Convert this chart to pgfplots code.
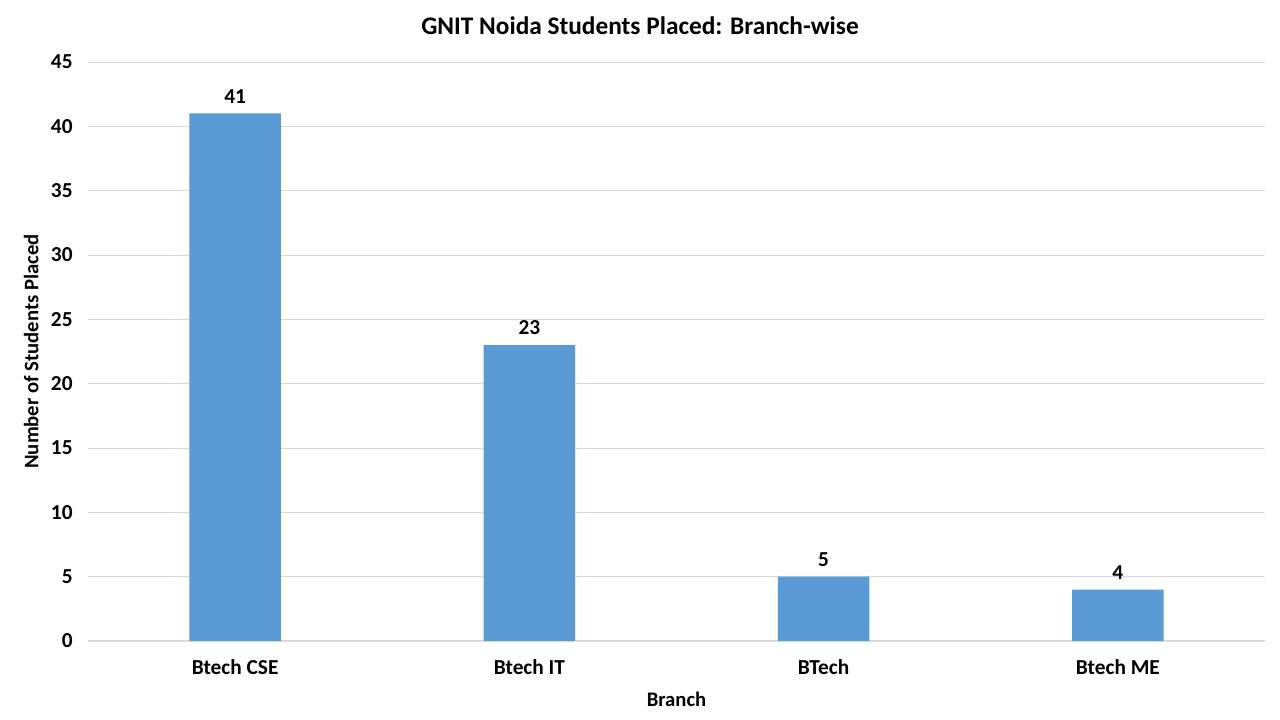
\documentclass[border=0pt]{standalone}
\usepackage{pgfplots}
\pgfplotsset{compat=1.18}
\usepackage{fontspec}
\setmainfont{Carlito}
\definecolor{barblue}{HTML}{5B9BD5}
\definecolor{gridgray}{HTML}{D9D9D9}
\begin{document}
\begin{tikzpicture}[x=0.75pt,y=0.75pt]
\path[use as bounding box,fill=white] (0,0) rectangle (1280,720);
\node[font=\bfseries\fontsize{19}{22}\selectfont] at (640,694) {GNIT Noida Students Placed: Branch-wise};
\begin{axis}[
  at={(88*0.75pt,79*0.75pt)}, anchor=south west,
  scale only axis, width=882.75pt, height=434.25pt,
  xmin=-0.5, xmax=3.5, ymin=0, ymax=45,
  ytick={0,5,...,45},
  xtick=data,
  xticklabels={Btech CSE,Btech IT,BTech,Btech ME},
  ymajorgrids, grid style={gridgray, line width=0.6pt},
  axis x line*=bottom, axis y line*=left,
  y axis line style={draw=none},
  x axis line style={gridgray, line width=0.8pt, -},
  major tick length=0pt,
  tick label style={font=\bfseries\fontsize{16}{18}\selectfont},
  /pgf/number format/assume math mode=true,
  yticklabel style={xshift=-8pt},
  xticklabel style={yshift=-10pt},
  xlabel={Branch}, ylabel={Number of Students Placed},
  label style={font=\bfseries\fontsize{15.5}{18}\selectfont},
  xlabel style={yshift=-6.5pt},
  ylabel style={yshift=2.5pt},
  ybar, bar width=68.5pt,
  nodes near coords,
  nodes near coords style={font=\bfseries\fontsize{16}{18}\selectfont, yshift=4pt},
  clip=false,
]
\addplot[fill=barblue, draw=none] coordinates {(0,41) (1,23) (2,5) (3,4)};
\end{axis}
\end{tikzpicture}
\end{document}
